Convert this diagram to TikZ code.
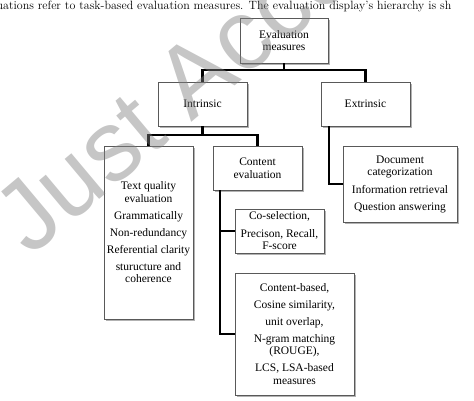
\documentclass[tikz,border=0pt]{standalone}
\usepackage{fontspec}
\newfontfamily\boxfont{Liberation Serif}
\newfontfamily\markfont{Liberation Sans}
\usetikzlibrary{shadows}
\tikzset{
  box/.style={draw=black!65, line width=0.6pt, fill=white, align=center, inner sep=0pt,
    font=\boxfont\fontsize{11.5}{12.5}\selectfont,
    drop shadow={shadow xshift=1.8pt, shadow yshift=-1.8pt, fill=black, opacity=0.3}},
  link/.style={line width=2.2pt, line join=miter},
  stamp/.style={font=\markfont\fontsize{100}{100}\selectfont, text=black!50, opacity=0.45}
}
\begin{document}
\begin{tikzpicture}[x=1pt, y=-1pt]
    \clip (0,0) rectangle (474,401);
    % running text of the page
    \node [anchor=base west, inner sep=0pt, font=\fontsize{12}{14}\selectfont] (20) at (-3.5,10) {uations refer to task-based evaluation measures. The evaluation display's hierarchy is sh};
    % boxes
    \node [box, minimum width=88pt, minimum height=45pt] (0) at (284,40.5) {Evaluation\\measures};
    \node [box, minimum width=89pt, minimum height=44pt] (1) at (202.5,104) {Intrinsic};
    \node [box, minimum width=89pt, minimum height=44pt] (2) at (365.5,104) {Extrinsic};
    \node [box, minimum width=89pt, minimum height=173pt] (3) at (148.5,232.5) {Text quality\\evaluation\\[4.5pt]Grammatically\\[4.5pt]Non-redundancy\\[4.5pt]Referential clarity\\[4.5pt]sturucture and\\coherence};
    \node [box, minimum width=89pt, minimum height=44pt] (4) at (257.5,168) {Content\\evaluation};
    \node [box, minimum width=89pt, minimum height=44pt] (5) at (279.5,231) {Co-selection,\\[5pt]Precison, Recall,\\F-score};
    \node [box, minimum width=119pt, minimum height=122pt] (6) at (294.5,334) {Content-based,\\[4.5pt]Cosine similarity,\\[4.5pt]unit overlap,\\[4.5pt]N-gram matching\\(ROUGE),\\[4.5pt]LCS, LSA-based\\measures};
    \node [box, minimum width=114pt, minimum height=76pt] (7) at (400,184) {Document\\categorization\\[5pt]Information retrieval\\[4.5pt]Question answering};
    % connectors
    \draw [link] (0.south) -- ++(0,7) -| (1.north);
    \draw [link] (0.south) -- ++(0,7) -| (2.north);
    \draw [link] (1.south) -- ++(0,9) -| (3.north);
    \draw [link] (1.south) -- ++(0,9) -| (4.north);
    \draw [link] ([xshift=7.5pt]4.south west) |- (5.west);
    \draw [link] ([xshift=7.5pt]4.south west) |- (6.west);
    \draw [link] ([xshift=8pt]2.south west) |- (7.west);
    % watermark
    \node [stamp, rotate=40, anchor=base west, inner sep=0pt] (21) at (30,258) {Just Accepted};
\end{tikzpicture}
\end{document}
